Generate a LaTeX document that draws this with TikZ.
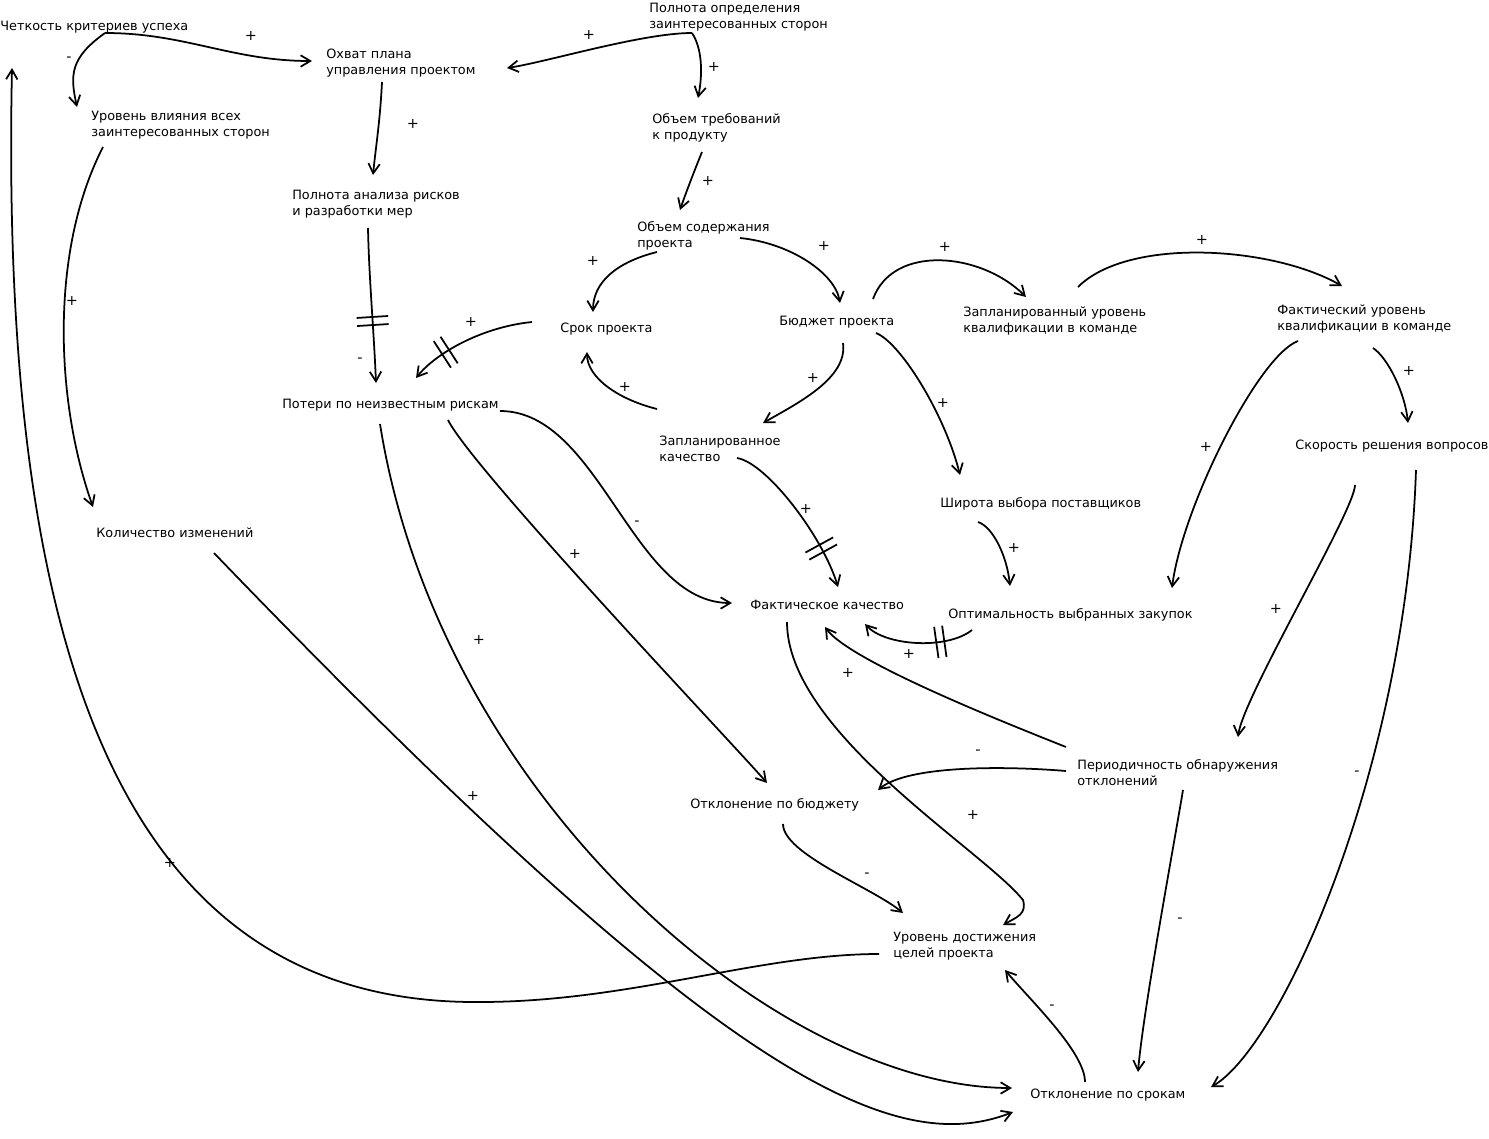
\documentclass[tikz,border=0pt]{standalone}
\usepackage{fontspec}
\newfontfamily\varfont{DejaVu Sans}
\usepackage{tikz}
\usetikzlibrary{arrows.meta, decorations.markings}

\begin{document}
\begin{tikzpicture}[
      x=0.02cm, y=-0.02cm,
      var/.style={anchor=west, inner sep=0pt, align=left, font=\varfont\fontsize{7.3}{9.1}\selectfont},
      sign/.style={inner sep=0pt, font=\varfont\fontsize{8.2}{9.1}\selectfont},
      link/.style={-{Straight Barb[length=5.5pt, width=6.5pt]}, line width=1pt},
      delay/.style={postaction={decorate, decoration={markings, mark=at position #1 with {\draw[arrows=-, line width=1pt] (-2.3pt,-9pt) -- (-2.3pt,9pt) (2.3pt,-9pt) -- (2.3pt,9pt);}}}}
    ]
    \useasboundingbox (0,0) rectangle (1489,1139);

    % Variables
    \node[var] (chet) at (0,27) {Четкость критериев успеха};
    \node[var] (ohvat) at (326,63) {Охват плана\\управления проектом};
    \node[var] (polopr) at (649,17) {Полнота определения\\заинтересованных сторон};
    \node[var] (vliyan) at (91,125) {Уровень влияния всех\\заинтересованных сторон};
    \node[var] (treb) at (652,128) {Объем требований\\к продукту};
    \node[var] (analiz) at (292,204) {Полнота анализа рисков\\и разработки мер};
    \node[var] (soderzh) at (637,236) {Объем содержания\\проекта};
    \node[var] (srok) at (560,329) {Срок проекта};
    \node[var] (budzhet) at (779,322) {Бюджет проекта};
    \node[var] (zapkval) at (963,321) {Запланированный уровень\\квалификации в команде};
    \node[var] (faktkval) at (1277,319) {Фактический уровень\\квалификации в команде};
    \node[var] (poteri) at (282,405) {Потери по неизвестным рискам};
    \node[var] (zapkach) at (659,449) {Запланированное\\качество};
    \node[var] (skorost) at (1295,446) {Скорость решения вопросов};
    \node[var] (shirota) at (940,504) {Широта выбора поставщиков};
    \node[var] (izmen) at (96,533) {Количество изменений};
    \node[var] (faktkach) at (750,605) {Фактическое качество};
    \node[var] (optim) at (948,615) {Оптимальность выбранных закупок};
    \node[var] (period) at (1077,773) {Периодичность обнаружения\\отклонений};
    \node[var] (otklbud) at (690,805) {Отклонение по бюджету};
    \node[var] (dostizh) at (893,946) {Уровень достижения\\целей проекта};
    \node[var] (otklsrok) at (1030,1095) {Отклонение по срокам};

    % Links
    \draw[link] ([shift={(105,6)}]chet.west) .. controls +(80,0) and +(-80,0) .. ([shift={(-14,-2)}]ohvat.west);
    \draw[link] ([shift={(105,6)}]chet.west) .. controls +(-35,25) and +(-7,-32) .. ([shift={(-14,-18)}]vliyan.west);
    \draw[link] ([shift={(43,16)}]polopr.west) .. controls +(-50,0) and +(40,-6) .. ([shift={(181,5)}]ohvat.west);
    \draw[link] ([shift={(43,16)}]polopr.west) .. controls +(10,15) and +(5,-25) .. ([shift={(46,-30)}]treb.west);
    \draw[link] ([shift={(56,19)}]ohvat.west) .. controls +(-2,40) and +(3,-30) .. ([shift={(81,-29)}]analiz.west);
    \draw[link] ([shift={(50,24)}]treb.west) .. controls +(-5,12) and +(5,-15) .. ([shift={(43,-26)}]soderzh.west);
    \draw[link] ([shift={(20,16)}]soderzh.west) .. controls +(-40,10) and +(0,-30) .. ([shift={(33,-17)}]srok.west);
    \draw[link] ([shift={(103,2)}]soderzh.west) .. controls +(50,5) and +(-5,-30) .. ([shift={(61,-19)}]budzhet.west);
    \draw[link] ([shift={(94,-23)}]budzhet.west) .. controls +(20,-55) and +(-45,-45) .. ([shift={(63,-24)}]zapkval.west);
    \draw[link] ([shift={(115,-34)}]zapkval.west) .. controls +(50,-50) and +(-70,-40) .. ([shift={(65,-33)}]faktkval.west);
    \draw[link, delay=0.6] ([shift={(76,24)}]analiz.west) .. controls +(1,50) and +(-2,-50) .. ([shift={(94,-22)}]poteri.west);
    \draw[link, delay=0.7] ([shift={(-28,-7)}]srok.west) .. controls +(-50,5) and +(20,-25) .. ([shift={(134,-27)}]poteri.west);
    \draw[link] ([shift={(-2,-40)}]zapkach.west) .. controls +(-40,-10) and +(0,25) .. ([shift={(27,23)}]srok.west);
    \draw[link] ([shift={(64,21)}]budzhet.west) .. controls +(5,35) and +(35,-20) .. ([shift={(104,-26)}]zapkach.west);
    \draw[link] ([shift={(97,11)}]budzhet.west) .. controls +(25,10) and +(-15,-60) .. ([shift={(20,-29)}]shirota.west);
    \draw[link, delay=0.75] ([shift={(78,9)}]zapkach.west) .. controls +(30,5) and +(-15,-50) .. ([shift={(88,-18)}]faktkach.west);
    \draw[link] ([shift={(96,29)}]faktkval.west) .. controls +(15,10) and +(-3,-30) .. ([shift={(113,-23)}]skorost.west);
    \draw[link] ([shift={(21,22)}]faktkval.west) .. controls +(-40,15) and +(10,-80) .. ([shift={(224,-27)}]optim.west);
    \draw[link] ([shift={(38,18)}]shirota.west) .. controls +(15,5) and +(-3,-30) .. ([shift={(62,-29)}]optim.west);
    \draw[link, delay=0.3] ([shift={(24,15)}]optim.west) .. controls +(-25,20) and +(20,22) .. ([shift={(115,19)}]faktkach.west);
    \draw[link] ([shift={(218,6)}]poteri.west) .. controls +(100,0) and +(-100,0) .. ([shift={(-18,-2)}]faktkach.west);
    \draw[link] ([shift={(166,15)}]poteri.west) .. controls +(25,50) and +(-30,-35) .. ([shift={(77,-22)}]otklbud.west);
    \draw[link] ([shift={(98,19)}]poteri.west) .. controls +(60,376) and +(-232,0) .. ([shift={(-18,-7)}]otklsrok.west);
    \draw[link] ([shift={(37,17)}]faktkach.west) .. controls +(0,110) and +(-40,-50) .. (1023,900) .. controls +(4,14) and +(14,-8) .. ([shift={(110,-21)}]dostizh.west);
    \draw[link] ([shift={(-11,-26)}]period.west) .. controls +(-50,-20) and +(25,35) .. ([shift={(75,22)}]faktkach.west);
    \draw[link] ([shift={(-11,-2)}]period.west) .. controls +(-60,-5) and +(30,-25) .. ([shift={(188,-15)}]otklbud.west);
    \draw[link] ([shift={(106,17)}]period.west) .. controls +(-10,60) and +(5,-60) .. ([shift={(108,-23)}]otklsrok.west);
    \draw[link] ([shift={(60,39)}]skorost.west) .. controls +(0,25) and +(5,-40) .. ([shift={(161,-36)}]period.west);
    \draw[link] ([shift={(121,24)}]skorost.west) .. controls +(-10,300) and +(70,-40) .. ([shift={(181,-8)}]otklsrok.west);
    \draw[link] ([shift={(93,19)}]otklbud.west) .. controls +(0,30) and +(-30,-25) .. ([shift={(10,-33)}]dostizh.west);
    \draw[link] ([shift={(55,-13)}]otklsrok.west) .. controls +(0,-30) and +(25,30) .. ([shift={(112,24)}]dostizh.west);
    \draw[link] ([shift={(-14,8)}]dostizh.west) .. controls +(-120,0) and +(150,0) .. (480,1002) .. controls +(-360,3) and +(-12,582) .. ([shift={(12,41)}]chet.west);
    \draw[link] ([shift={(118,20)}]izmen.west) .. controls +(500,520) and +(-123,48) .. ([shift={(-17,17)}]otklsrok.west);
    \draw[link] ([shift={(12,22)}]vliyan.west) .. controls +(-53,103) and +(-38,-107) .. ([shift={(-3,-26)}]izmen.west);

    % Polarity signs
    \node[sign] (sg1) at (251,36) {+};
    \node[sign] (sg2) at (69,59) {-};
    \node[sign] (sg3) at (589,35) {+};
    \node[sign] (sg4) at (714,67) {+};
    \node[sign] (sg5) at (413,124) {+};
    \node[sign] (sg6) at (708,181) {+};
    \node[sign] (sg7) at (593,261) {+};
    \node[sign] (sg8) at (824,246) {+};
    \node[sign] (sg9) at (945,247) {+};
    \node[sign] (sg10) at (1202,240) {+};
    \node[sign] (sg11) at (360,360) {-};
    \node[sign] (sg12) at (471,322) {+};
    \node[sign] (sg13) at (625,387) {+};
    \node[sign] (sg14) at (813,378) {+};
    \node[sign] (sg15) at (943,403) {+};
    \node[sign] (sg16) at (1409,371) {+};
    \node[sign] (sg17) at (1206,447) {+};
    \node[sign] (sg18) at (1014,548) {+};
    \node[sign] (sg19) at (806,509) {+};
    \node[sign] (sg20) at (909,654) {+};
    \node[sign] (sg21) at (637,523) {-};
    \node[sign] (sg22) at (575,554) {+};
    \node[sign] (sg23) at (479,640) {+};
    \node[sign] (sg24) at (848,673) {+};
    \node[sign] (sg25) at (978,752) {-};
    \node[sign] (sg26) at (973,815) {+};
    \node[sign] (sg27) at (1180,920) {-};
    \node[sign] (sg28) at (1276,609) {+};
    \node[sign] (sg29) at (1357,773) {-};
    \node[sign] (sg30) at (867,875) {-};
    \node[sign] (sg31) at (1052,1007) {-};
    \node[sign] (sg32) at (170,863) {+};
    \node[sign] (sg33) at (473,796) {+};
    \node[sign] (sg34) at (72,301) {+};
  \end{tikzpicture}
\end{document}
